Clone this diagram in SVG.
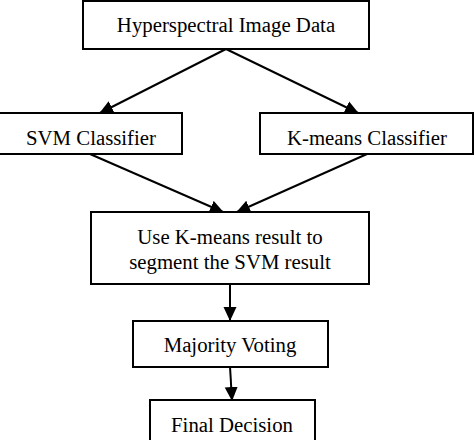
<svg xmlns="http://www.w3.org/2000/svg" width="474" height="440" viewBox="0 0 474 440">
<style>
.box{fill:#fff;stroke:#000;stroke-width:2}
.t{font-family:"Liberation Serif","Times New Roman",serif;font-size:20.8px;fill:#000;text-anchor:middle}
.c{stroke:#000;stroke-width:2;fill:none}
</style>
<defs>
<marker id="ah" markerWidth="14" markerHeight="14" refX="13" refY="7" orient="auto" markerUnits="userSpaceOnUse">
<path d="M0,0.5 L14,7 L0,13.5 Z" fill="#000"/>
</marker>
</defs>
<rect width="474" height="440" fill="#fff"/>
<g id="connectors">
<line class="c" x1="226" y1="49" x2="100" y2="113" marker-end="url(#ah)"/>
<line class="c" x1="226" y1="49" x2="358" y2="113" marker-end="url(#ah)"/>
<line class="c" x1="90" y1="154" x2="223" y2="212" marker-end="url(#ah)"/>
<line class="c" x1="367" y1="154" x2="237" y2="212" marker-end="url(#ah)"/>
<line class="c" x1="230" y1="284" x2="230" y2="320" marker-end="url(#ah)"/>
<line class="c" x1="230" y1="367" x2="232" y2="400" marker-end="url(#ah)"/>
</g>
<g id="n1"><rect class="box" x="83" y="1" width="286" height="48"/><text class="t" x="226" y="32">Hyperspectral Image Data</text></g>
<g id="n2"><rect class="box" x="-2" y="113" width="184" height="41"/><text class="t" x="91" y="145">SVM Classifier</text></g>
<g id="n3"><rect class="box" x="260" y="113" width="213" height="41"/><text class="t" x="367" y="145">K-means Classifier</text></g>
<g id="n4"><rect class="box" x="91" y="212" width="278" height="72"/><text class="t" x="230" y="244">Use K-means result to</text><text class="t" x="230" y="269">segment the SVM result</text></g>
<g id="n5"><rect class="box" x="133" y="321" width="195" height="46"/><text class="t" x="230" y="352">Majority Voting</text></g>
<g id="n6"><rect class="box" x="150" y="400" width="165" height="50"/><text class="t" x="232" y="432">Final Decision</text></g>
</svg>
